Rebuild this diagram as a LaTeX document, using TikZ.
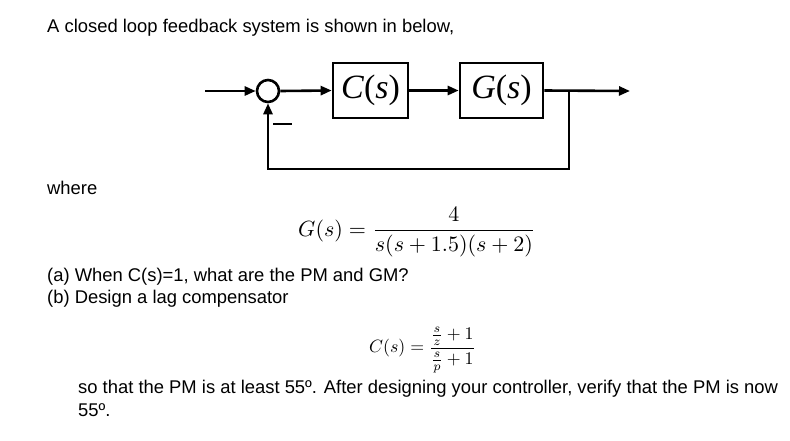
\documentclass[tikz,border=0pt]{standalone}
\usepackage{amsmath}
\usepackage{graphicx}
\usepackage{fontspec}
\setmainfont{Liberation Sans}
\newfontfamily\blockfont{Liberation Serif}
\usetikzlibrary{arrows.meta}
\begin{document}
\begin{tikzpicture}[x=1pt,y=-1pt,
  body/.style={anchor=base west,inner sep=0pt,font=\fontsize{18.4}{22}\selectfont},
  blk/.style={draw,line width=2.6pt,minimum height=55pt,inner sep=0pt,font=\blockfont\fontsize{34}{34}\selectfont},
  wire/.style={line width=2.6pt},
  arr/.style={wire,-{Triangle[length=11pt,width=9pt]}},
  eq/.style={inner sep=0pt,anchor=base west}]
\useasboundingbox[fill=white] (0,0) rectangle (790,440);
\node[body] (t1) at (47,32) {A closed loop feedback system is shown in below,};
% block diagram
\coordinate (in) at (205,91);
\node[draw,circle,line width=2.6pt,minimum size=22pt,inner sep=0pt] (sum) at (268,91) {};
\node[blk,minimum width=75pt] (C) at (370.5,90.5) {\textit{C}(\textit{s})};
\node[blk,minimum width=83pt] (G) at (501.5,90.5) {\textit{G}(\textit{s})};
\coordinate (br) at (569,91);
\coordinate (out) at (630,91);
\coordinate (fb) at (569,169);
\draw[arr] (in) -- (sum.west);
\draw[arr] (sum.east) -- (C.west);
\draw[arr] (C.east) -- (G.west);
\draw[arr] (G.east) -- (out);
\draw[arr] (br) -- (fb) -| (sum.south);
\node[inner sep=0pt] (minus) at (282.5,124) {\rule{19pt}{2.6pt}};
\node[body] (where) at (47,194) {where};
\node[eq] (Geq) at (298,236) {\scalebox{2.2}{$G(s)=\dfrac{4}{s(s+1.5)(s+2)}$}};
\node[body] (qa) at (47,281) {(a) When C(s)=1, what are the PM and GM?};
\node[body] (qb) at (47,303) {(b) Design a lag compensator};
\node[eq] (Ceq) at (369,352.5) {\scalebox{1.78}{$C(s)=\dfrac{\frac{s}{z}+1}{\frac{s}{p}+1}$}};
\node[body] (t2) at (78,393) {so that the PM is at least 55º. After designing your controller, verify that the PM is now};
\node[body] (t3) at (78,416) {55º.};
\end{tikzpicture}
\end{document}
